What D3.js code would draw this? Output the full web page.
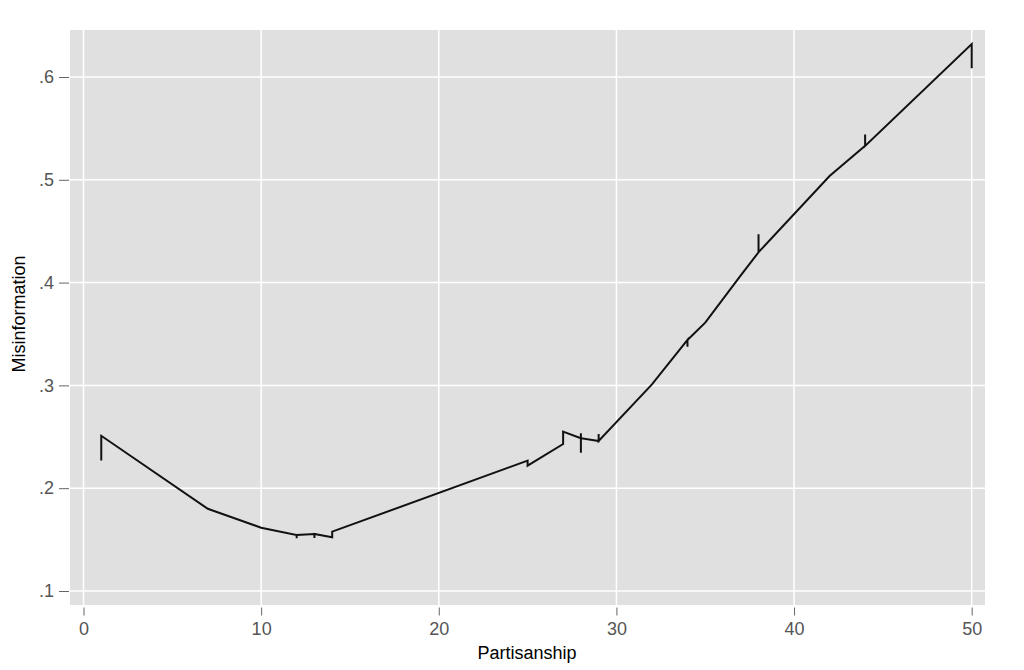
<!DOCTYPE html>
<html>
<head>
<meta charset="utf-8">
<script src="https://cdn.jsdelivr.net/npm/d3@7"></script>
<style>
  body { margin: 0; background: #fff; }
  svg { display: block; font-family: "Liberation Sans", Arial, Helvetica, sans-serif; }
</style>
</head>
<body>
<svg id="chart" width="1024" height="670"></svg>
<script>
// path of the fitted line, in drawing order (ties at one x give the little spikes)
var partisanship = [1, 1, 7, 10, 12, 12, 12, 13, 13, 13, 14, 14, 25, 25, 27, 27,
  28, 28, 28, 28, 29, 29, 29, 32, 34, 34, 34, 35, 37, 38, 38, 38, 42, 44, 44, 44, 50, 50];
var misinformation = [.227, .251, .180, .1616, .1545, .1513, .1545, .1554, .1515, .1554,
  .1522, .1577, .2268, .2219, .243, .255, .2486, .2345, .2534, .2486, .2459, .2527, .2459,
  .301, .3442, .3377, .3442, .361, .407, .4295, .447, .4295, .5037, .533, .544, .533, .632, .6085];

var xTicks = [0, 10, 20, 30, 40, 50];
var yTicks = [.1, .2, .3, .4, .5, .6];
var yTickLabels = [".1", ".2", ".3", ".4", ".5", ".6"];

var svg = d3.select("#chart");

var x = d3.scaleLinear().domain([0, 50]).range([83.5, 971.7]);
var y = d3.scaleLinear().domain([.1, .6]).range([591, 77]);

var box = {left: 70, right: 985, top: 30, bottom: 605};

svg.append("rect")
    .attr("x", box.left).attr("y", box.top)
    .attr("width", box.right - box.left).attr("height", box.bottom - box.top)
    .attr("fill", "#e0e0e0");

// grid
svg.selectAll(".vgrid").data(xTicks).enter().append("line")
    .attr("x1", d => x(d)).attr("x2", d => x(d))
    .attr("y1", box.top).attr("y2", box.bottom)
    .attr("stroke", "#fff").attr("stroke-width", 1.5);
svg.selectAll(".hgrid").data(yTicks).enter().append("line")
    .attr("y1", d => y(d)).attr("y2", d => y(d))
    .attr("x1", box.left).attr("x2", box.right)
    .attr("stroke", "#fff").attr("stroke-width", 1.5);

// x axis
var xAxis = d3.axisBottom(x).tickValues(xTicks).tickSize(8).tickPadding(7);
var gx = svg.append("g").attr("transform", "translate(0," + (box.bottom + 2.5) + ")").call(xAxis);
gx.select(".domain").remove();
gx.selectAll(".tick line").attr("stroke", "#666");
gx.selectAll(".tick text").attr("fill", "#555").style("font-size", "18px");

// y axis
var yAxis = d3.axisLeft(y).tickValues(yTicks).tickFormat((d, i) => yTickLabels[i]).tickSize(10).tickPadding(5);
var gy = svg.append("g").attr("transform", "translate(" + (box.left - 1) + ",0)").call(yAxis);
gy.select(".domain").remove();
gy.selectAll(".tick line").attr("stroke", "#666");
gy.selectAll(".tick text").attr("fill", "#555").style("font-size", "18px");

// axis titles
svg.append("text")
    .attr("x", 527).attr("y", 659)
    .attr("text-anchor", "middle")
    .style("font-size", "18px")
    .text("Partisanship");
svg.append("text")
    .attr("transform", "translate(25,314) rotate(-90)")
    .attr("text-anchor", "middle")
    .style("font-size", "18px")
    .text("Misinformation");

// the line
var pts = partisanship.map((d, i) => [d, misinformation[i]]);
var line = d3.line().x(d => x(d[0])).y(d => y(d[1]));
svg.append("path")
    .datum(pts)
    .attr("d", line)
    .attr("fill", "none")
    .attr("stroke", "#111")
    .attr("stroke-width", 2)
    .attr("stroke-linejoin", "miter");
</script>
</body>
</html>
